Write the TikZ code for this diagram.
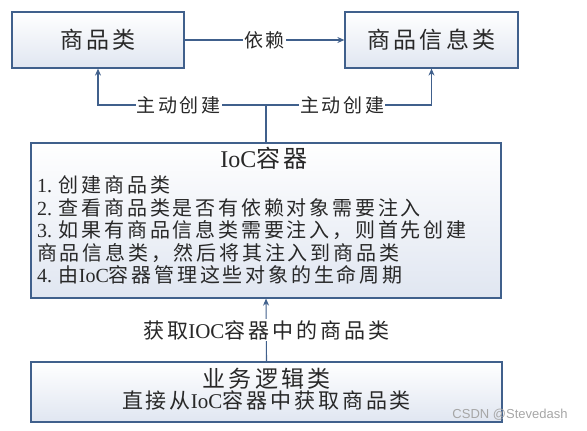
\documentclass[tikz,border=0pt]{standalone}
\usepackage{fontspec}
\setmainfont{Noto Sans CJK SC}[LetterSpace=14]
\newfontfamily\latinfont{Liberation Serif}
\newfontfamily\markfont{Liberation Sans}
\usetikzlibrary{positioning,arrows.meta,shadows}
\definecolor{boxblue}{RGB}{64,96,140}
\definecolor{boxfill}{RGB}{224,230,241}
\definecolor{inkgray}{RGB}{40,40,40}
\newcommand{\lat}[1]{{\latinfont #1}}

\tikzset{
  plainbox/.style={draw=boxblue, line width=1.2pt, top color=white, bottom color=boxfill,
    text=inkgray, inner sep=0pt, drop shadow={shadow xshift=1pt, shadow yshift=-1pt, opacity=0.35}},
  classbox/.style={plainbox, minimum width=172pt, minimum height=56pt, font=\fontsize{23}{23}\selectfont},
  link/.style={draw=boxblue, line width=1.1pt, -{Stealth[length=7pt,width=6pt]}},
  linklabel/.style={fill=white, text=inkgray, inner sep=1pt, font=\fontsize{19}{19}\selectfont},
}

\begin{document}
\begin{tikzpicture}[x=1pt, y=-1pt]
  \useasboundingbox (0,0) rectangle (587,431);
  % the two classes
  \node[classbox] (goods) at (98,40) {商品类};
  \node[classbox, minimum width=173pt] (info) at (431.5,40) {商品信息类};
  % container
  \node[plainbox, minimum width=470pt, minimum height=155pt] (ioc) at (266,220.5) {};
  \node[text=inkgray, font=\fontsize{24}{24}\selectfont] (ioctitle) at (264,158) {\lat{IoC}容器};
  \node[text=inkgray, anchor=west, align=left, inner sep=0pt,
        font=\fontsize{20}{22.5}\selectfont] (steps) at (37,230)
    {\lat{1. }创建商品类\\
     \lat{2. }查看商品类是否有依赖对象需要注入\\
     \lat{3. }如果有商品信息类需要注入，则首先创建\\
     商品信息类，然后将其注入到商品类\\
     \lat{4. }由\lat{IoC}容器管理这些对象的生命周期};
  % business class
  \node[plainbox, minimum width=471pt, minimum height=60pt] (biz) at (266.5,392) {};
  \node[text=inkgray, align=center, inner sep=0pt] (bizlines) at (266.5,389)
    {{\fontsize{23}{22}\selectfont 业务逻辑类}\\
     {\fontsize{21}{22}\selectfont 直接从\lat{IoC}容器中获取商品类}};
  \node[text=black!35, font=\markfont\fontsize{13}{13}\selectfont] (mark) at (510,415) {CSDN @Stevedash};
  % connectors
  \coordinate (split) at (266,105);
  \draw[link] (goods) -- node[linklabel] {依赖} (info);
  \draw[draw=boxblue, line width=1.1pt] (ioc.north) -- (split);
  \draw[link] (split) -| node[linklabel, pos=0.26] {主动创建} (goods.south);
  \draw[link] (split) -| node[linklabel, pos=0.23] {主动创建} (info.south);
  \draw[link] (biz.north) -- node[linklabel, font=\fontsize{21}{21}\selectfont] {获取\lat{IOC}容器中的商品类} (ioc.south);
\end{tikzpicture}
\end{document}
